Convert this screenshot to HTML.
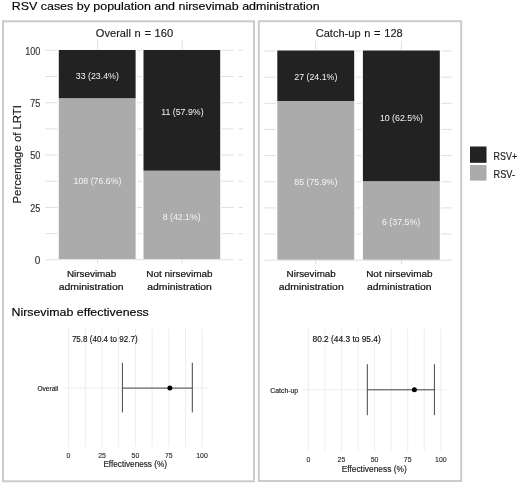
<!DOCTYPE html>
<html><head><meta charset="utf-8"><title>RSV cases</title>
<style>
html,body{margin:0;padding:0;background:#fff;}
svg{display:block;font-family:"Liberation Sans",Arial,sans-serif;}
</style></head><body>
<svg width="520" height="485" viewBox="0 0 520 485">
<rect width="520" height="485" fill="#fff"/>
<text x="11.7" y="9.7" font-size="11.6" fill="#000" stroke="#000" stroke-width="0.15" textLength="308" lengthAdjust="spacingAndGlyphs">RSV cases by population and nirsevimab administration</text>
<!-- panel borders -->
<rect x="3" y="21.3" width="251" height="460" fill="none" stroke="#cbcbcb" stroke-width="2"/>
<rect x="258.8" y="21.2" width="202.4" height="459.8" fill="none" stroke="#cbcbcb" stroke-width="2"/>

<!-- panel 1 grid -->
<g stroke="#dfdfdf" stroke-width="1" fill="none">
<path d="M45.3 50.3H233.8M239 50.3H243 M45.3 76.5H233.8M239 76.5H243 M45.3 102.7H233.8M239 102.7H243 M45.3 128.9H233.8M239 128.9H243 M45.3 155.1H233.8M239 155.1H243 M45.3 181.3H233.8M239 181.3H243 M45.3 207.5H233.8M239 207.5H243 M45.3 233.7H233.8M239 233.7H243 M45.3 259.7H233.8M239 259.7H243"/>
<path d="M97.5 40.5V263.5M182.2 40.5V263.5"/>
</g>
<!-- panel 1 bars -->
<rect x="57.3" y="49.5" width="79.8" height="209.5" fill="#fff"/><rect x="142" y="49.5" width="79.8" height="209.5" fill="#fff"/>
<rect x="58.8" y="50" width="76.8" height="48.5" fill="#222"/>
<rect x="58.8" y="98.5" width="76.8" height="160.5" fill="#ababab"/>
<rect x="143.5" y="50" width="76.7" height="120.8" fill="#222"/>
<rect x="143.5" y="170.8" width="76.7" height="88.2" fill="#ababab"/>
<!-- panel 2 grid -->
<g stroke="#dfdfdf" stroke-width="1" fill="none">
<path d="M264.5 51.0H451.6 M264.5 77.2H451.6 M264.5 103.3H451.6 M264.5 129.4H451.6 M264.5 155.6H451.6 M264.5 181.8H451.6 M264.5 207.9H451.6 M264.5 234.0H451.6 M264.5 260.2H451.6"/>
<path d="M315.7 40.8V264.2M401.5 40.8V264.2"/>
</g>
<rect x="275.8" y="50" width="79.9" height="209.7" fill="#fff"/><rect x="361.4" y="50" width="79.9" height="209.7" fill="#fff"/>
<rect x="277.3" y="50.5" width="76.9" height="50.5" fill="#222"/>
<rect x="277.3" y="101" width="76.9" height="158.7" fill="#ababab"/>
<rect x="362.9" y="50.5" width="76.9" height="131" fill="#222"/>
<rect x="362.9" y="181.5" width="76.9" height="78.2" fill="#ababab"/>

<!-- strip titles -->
<g font-size="11.35" fill="#1a1a1a" stroke="#1a1a1a" stroke-width="0.15">
<text x="95.8" y="36.9" font-size="11.1" word-spacing="0.6" textLength="77.3" lengthAdjust="spacingAndGlyphs">Overall n = 160</text>
<text x="315.7" y="37.1" font-size="11.1" word-spacing="0.6" textLength="87" lengthAdjust="spacingAndGlyphs">Catch-up n = 128</text>
</g>
<!-- y ticks -->
<g font-size="10.2" fill="#333" stroke="#333" stroke-width="0.15" text-anchor="end" lengthAdjust="spacingAndGlyphs">
<text x="40.3" y="54.8" textLength="15.1" lengthAdjust="spacingAndGlyphs">100</text>
<text x="40.3" y="107" textLength="10.1" lengthAdjust="spacingAndGlyphs">75</text>
<text x="40.3" y="159.4" textLength="10.1" lengthAdjust="spacingAndGlyphs">50</text>
<text x="40.3" y="211.7" textLength="10.1" lengthAdjust="spacingAndGlyphs">25</text>
<text x="40.3" y="263.9" font-size="10">0</text>
</g>
<text transform="translate(20.6,203.5) rotate(-90)" font-size="11.35" fill="#1a1a1a" stroke="#1a1a1a" stroke-width="0.15" textLength="98.5" lengthAdjust="spacingAndGlyphs">Percentage of LRTI</text>

<!-- bar labels -->
<g font-size="8.8" fill="#f4f4f4" text-anchor="middle">
<text x="97.3" y="78.8">33 (23.4%)</text>
<text x="97.5" y="183.5">108 (76.6%)</text>
<text x="182.4" y="114.7">11 (57.9%)</text>
<text x="181.7" y="219.5">8 (42.1%)</text>
<text x="315.8" y="79.8">27 (24.1%)</text>
<text x="315.8" y="184.7">85 (75.9%)</text>
<text x="401.4" y="120.6">10 (62.5%)</text>
<text x="401.1" y="225.1">6 (37.5%)</text>
</g>

<!-- x labels (Calibri-like) -->
<g font-size="9.5" fill="#111" stroke="#111" stroke-width="0.2" text-anchor="middle">
<text x="91.6" y="276.5" textLength="49.4" lengthAdjust="spacingAndGlyphs">Nirsevimab</text>
<text x="91.1" y="289.5" textLength="64.8" lengthAdjust="spacingAndGlyphs">administration</text>
<text x="179.4" y="276.5" textLength="66.4" lengthAdjust="spacingAndGlyphs">Not nirsevimab</text>
<text x="179.6" y="289.5" textLength="64.6" lengthAdjust="spacingAndGlyphs">administration</text>
<text x="311.2" y="276.9" textLength="49.2" lengthAdjust="spacingAndGlyphs">Nirsevimab</text>
<text x="311.2" y="289.9" textLength="65" lengthAdjust="spacingAndGlyphs">administration</text>
<text x="399.4" y="276.9" textLength="66.5" lengthAdjust="spacingAndGlyphs">Not nirsevimab</text>
<text x="399.3" y="289.9" textLength="64.7" lengthAdjust="spacingAndGlyphs">administration</text>
</g>

<!-- legend -->
<rect x="470" y="146.5" width="16.5" height="16.3" fill="#222"/>
<rect x="470" y="165" width="16.5" height="15.6" fill="#ababab"/>
<g font-size="10.2" fill="#1a1a1a" stroke="#1a1a1a" stroke-width="0.15">
<text x="493.6" y="160.2" textLength="23.6" lengthAdjust="spacingAndGlyphs">RSV+</text>
<text x="493.6" y="178" textLength="21.4" lengthAdjust="spacingAndGlyphs">RSV-</text>
</g>

<!-- section 2 title -->
<text x="11.5" y="315.7" font-size="11.5" fill="#000" stroke="#000" stroke-width="0.15" textLength="137.3" lengthAdjust="spacingAndGlyphs">Nirsevimab effectiveness</text>

<!-- forest 1 -->
<g stroke="#ebebeb" stroke-width="0.9" fill="none">
<path d="M68.6 328.5V446.8M85.3 328.5V446.8M102 328.5V446.8M118.7 328.5V446.8M135.4 328.5V446.8M152.1 328.5V446.8M168.8 328.5V446.8M185.5 328.5V446.8M202.2 328.5V446.8"/>
<path d="M62.5 388.1H208.4"/>
</g>
<g stroke="#444" stroke-width="1" fill="none">
<path d="M122.4 362.7V412.4M192.3 362.7V412.4M122.4 388.1H192.3"/>
</g>
<circle cx="169.9" cy="388.1" r="2.5" fill="#000"/>
<text x="71.9" y="342" font-size="8.3" fill="#111" stroke="#111" stroke-width="0.15" textLength="65.7" lengthAdjust="spacingAndGlyphs">75.8 (40.4 to 92.7)</text>
<text x="58.3" y="391" font-size="6.6" fill="#222" stroke="#222" stroke-width="0.15" text-anchor="end">Overall</text>
<g font-size="6.9" fill="#333" stroke="#333" stroke-width="0.15" text-anchor="middle">
<text x="68.5" y="458">0</text><text x="102" y="458">25</text><text x="135.4" y="458">50</text><text x="168.8" y="458">75</text><text x="202" y="458">100</text>
</g>
<text x="135.2" y="467.3" font-size="8.2" fill="#1a1a1a" stroke="#1a1a1a" stroke-width="0.15" text-anchor="middle">Effectiveness (%)</text>

<!-- forest 2 -->
<g stroke="#ebebeb" stroke-width="0.9" fill="none">
<path d="M308.3 329V451.3M324.9 329V451.3M341.4 329V451.3M358 329V451.3M374.6 329V451.3M391.1 329V451.3M407.7 329V451.3M424.2 329V451.3M440.8 329V451.3"/>
<path d="M302.7 389.8H446.9"/>
</g>
<g stroke="#444" stroke-width="1" fill="none">
<path d="M367.3 364.2V415.2M434.4 364.2V415.2M367.3 389.8H434.4"/>
</g>
<circle cx="414.4" cy="389.8" r="2.5" fill="#000"/>
<text x="312.5" y="342" font-size="8.35" fill="#111" stroke="#111" stroke-width="0.15" textLength="68.2" lengthAdjust="spacingAndGlyphs">80.2 (44.3 to 95.4)</text>
<text x="298.2" y="393" font-size="6.9" fill="#222" stroke="#222" stroke-width="0.15" text-anchor="end">Catch-up</text>
<g font-size="6.9" fill="#333" stroke="#333" stroke-width="0.15" text-anchor="middle">
<text x="308.3" y="462.4">0</text><text x="341.4" y="462.4">25</text><text x="374.6" y="462.4">50</text><text x="407.7" y="462.4">75</text><text x="440.8" y="462.4">100</text>
</g>
<text x="374.2" y="472.4" font-size="8.4" fill="#1a1a1a" stroke="#1a1a1a" stroke-width="0.15" text-anchor="middle">Effectiveness (%)</text>
</svg>
</body></html>
